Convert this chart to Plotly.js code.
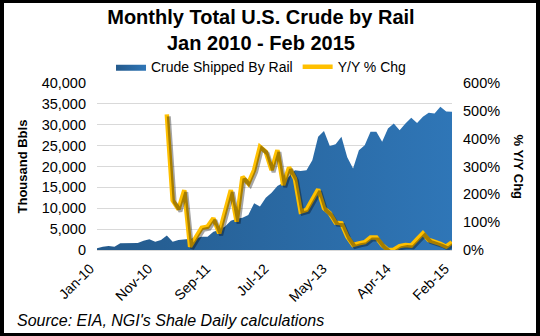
<!DOCTYPE html>
<html>
<head>
<meta charset="utf-8">
<script src="https://cdn.plot.ly/plotly-3.0.1.min.js"></script>
<style>
html,body{margin:0;padding:0;background:#000;width:540px;height:336px;overflow:hidden;}
#chart{position:absolute;left:4px;top:3px;width:532px;height:330px;background:#fff;}
</style>
</head>
<body>
<div id="chart"></div>
<script>
// Months (category axis)
const months = [
 'Jan-10','Feb-10','Mar-10','Apr-10','May-10','Jun-10','Jul-10','Aug-10','Sep-10','Oct-10','Nov-10','Dec-10',
 'Jan-11','Feb-11','Mar-11','Apr-11','May-11','Jun-11','Jul-11','Aug-11','Sep-11','Oct-11','Nov-11','Dec-11',
 'Jan-12','Feb-12','Mar-12','Apr-12','May-12','Jun-12','Jul-12','Aug-12','Sep-12','Oct-12','Nov-12','Dec-12',
 'Jan-13','Feb-13','Mar-13','Apr-13','May-13','Jun-13','Jul-13','Aug-13','Sep-13','Oct-13','Nov-13','Dec-13',
 'Jan-14','Feb-14','Mar-14','Apr-14','May-14','Jun-14','Jul-14','Aug-14','Sep-14','Oct-14','Nov-14','Dec-14',
 'Jan-15','Feb-15'
];
// Crude shipped by rail, thousand barrels
const crudeByRail = [
 400, 800, 950, 800, 1600, 1600, 1750, 1700, 2200, 2550, 2000, 2400,
 3500, 2000, 2400, 2550, 2600, 2800, 3200, 3200, 4400, 4800, 5600, 7000,
 7500, 7700, 8400, 11200, 10400, 12500, 13700, 15300, 16100, 17500, 19100, 18900,
 19100, 21500, 27100, 28500, 24900, 25300, 27100, 22200, 19500, 23900, 25100, 28300,
 28300, 25900, 29100, 30300, 28700, 30300, 31700, 30400, 31900, 32900, 32700, 34300,
 33200, 33100
];
// Year-over-year % change
const yoyPct = [
 null, null, null, null, null, null, null, null, null, null, null, null,
 487, 179, 146, 215, 12, 48, 80, 84, 114, 60, 138, 215,
 102, 263, 239, 287, 371, 353, 287, 359, 233, 297, 257, 138,
 144, 179, 218, 150, 132, 98, 96, 48, 18, 24, 28, 45,
 45, 18, 0, 1, 14, 18, 16, 38, 60, 36, 30, 22,
 12, 28
];
const tickLabels = ['Jan-10','Nov-10','Sep-11','Jul-12','May-13','Apr-14','Feb-15'];

const font = 'Liberation Sans, Arial, sans-serif';

const traces = [
  {
    x: months, y: crudeByRail, type: 'scatter', mode: 'lines',
    name: 'Crude Shipped By Rail', fill: 'tozeroy',
    line: {width: 0, color: '#2a68a4'},
    fillcolor: '#2a68a4',
    fillgradient: {type: 'horizontal', colorscale: [[0, '#245a8c'], [1, '#2f76b7']]},
    hoverinfo: 'skip'
  },
  {
    x: months, y: yoyPct, type: 'scatter', mode: 'lines',
    xaxis: 'x2', yaxis: 'y3', showlegend: false,
    line: {width: 4, color: 'rgba(0,0,0,0.35)'},
    connectgaps: false, hoverinfo: 'skip'
  },
  {
    x: months, y: yoyPct, type: 'scatter', mode: 'lines',
    yaxis: 'y2', name: 'Y/Y % Chg',
    line: {width: 4.5, color: '#FFC000'},
    connectgaps: false
  }
];

// plot area inside the 532x330 white box: x 93..448, y 80..247
const PX = (x) => (x - 93) / 355;
const PY = (y) => (247 - y) / 167;

const layout = {
  width: 532, height: 330,
  paper_bgcolor: '#fff', plot_bgcolor: '#fff',
  margin: {l: 93, r: 84, t: 80, b: 83},
  font: {family: font, color: '#000', size: 14},
  title: {
    text: 'Monthly Total U.S. Crude by Rail<br>Jan 2010 - Feb 2015',
    font: {family: font, size: 20, weight: 'bold', color: '#000'},
    xref: 'container', x: 0.483, xanchor: 'center',
    yref: 'container', y: 1 - 21 / 330, yanchor: 'top'
  },
  showlegend: true,
  legend: {
    orientation: 'h', x: 0.462, xanchor: 'center', y: 1.095, yanchor: 'middle',
    font: {family: font, size: 14, color: '#000'},
    bgcolor: 'rgba(0,0,0,0)'
  },
  xaxis: {
    type: 'category', range: [0, months.length - 1],
    tickmode: 'array', tickvals: tickLabels, ticktext: tickLabels,
    tickangle: -45, showgrid: false, zeroline: false,
    showline: true, linecolor: '#d9d9d9', ticks: '',
    ticklabelshift: -7, ticklabelstandoff: 4,
    tickfont: {family: font, size: 14, color: '#000'}
  },
  xaxis2: {
    type: 'category', overlaying: 'x', visible: false,
    range: [-0.34, months.length - 1.34]
  },
  yaxis: {
    range: [0, 40000], dtick: 5000, tickformat: ',d',
    showgrid: true, gridcolor: '#d9d9d9', gridwidth: 1, zeroline: false,
    ticks: '', ticklabelstandoff: 10,
    tickfont: {family: font, size: 14.5, color: '#000'}
  },
  yaxis2: {
    range: [0, 600], dtick: 100, ticksuffix: '%', overlaying: 'y', side: 'right',
    showgrid: false, zeroline: false, ticks: '', ticklabelstandoff: 10,
    tickfont: {family: font, size: 14.5, color: '#000'}
  },
  yaxis3: {
    range: [7, 607], overlaying: 'y', visible: false
  },
  annotations: [
    {
      text: 'Thousand Bbls', textangle: -90, showarrow: false,
      xref: 'paper', x: PX(18), xanchor: 'center',
      yref: 'paper', y: 0.5, yanchor: 'middle',
      font: {family: font, size: 13, weight: 'bold', color: '#000'}
    },
    {
      text: '% Y/Y Chg', textangle: 90, showarrow: false,
      xref: 'paper', x: PX(514), xanchor: 'center',
      yref: 'paper', y: 0.5, yanchor: 'middle',
      font: {family: font, size: 13, weight: 'bold', color: '#000'}
    },
    {
      text: "Source: EIA, NGI's Shale Daily calculations", showarrow: false,
      xref: 'paper', x: PX(11), xanchor: 'left',
      yref: 'paper', y: PY(317), yanchor: 'middle',
      font: {family: font, size: 16, style: 'italic', color: '#000'}
    }
  ]
};

Plotly.newPlot('chart', traces, layout, {displayModeBar: false, staticPlot: true});
</script>
</body>
</html>
